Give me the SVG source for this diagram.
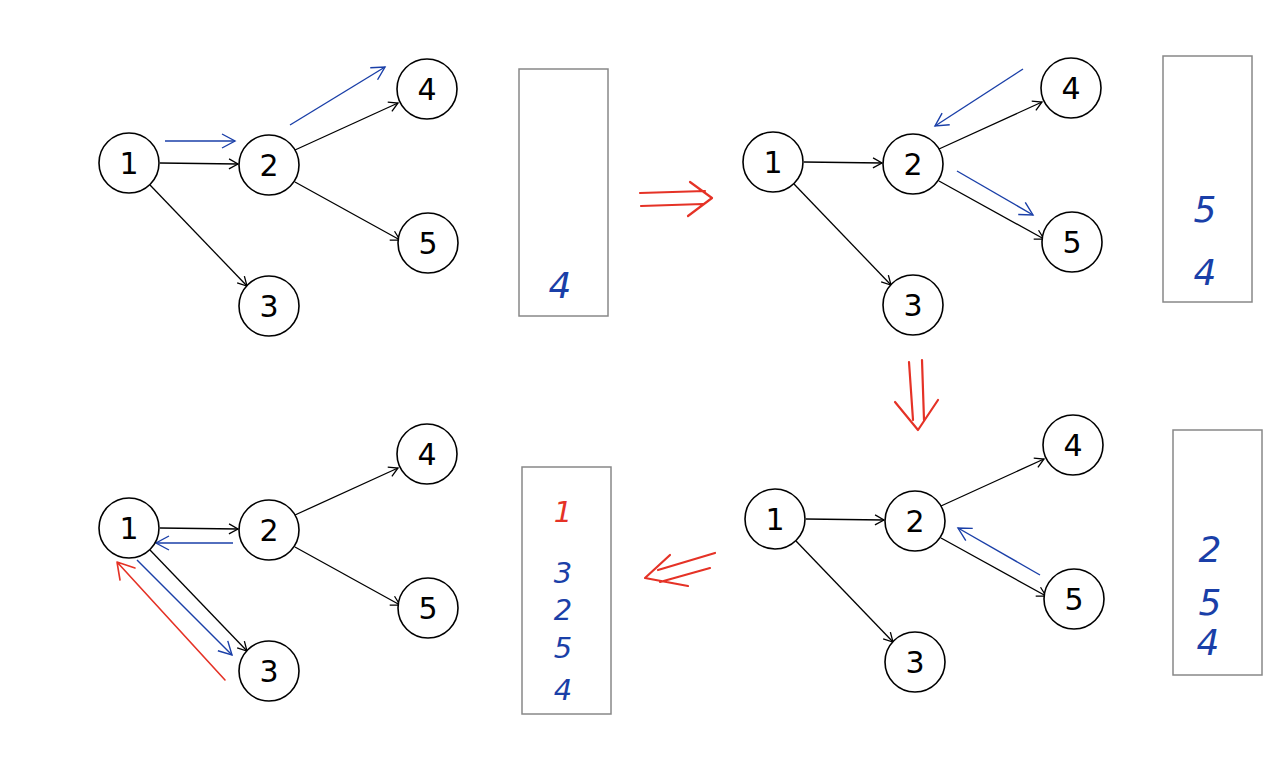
<svg xmlns="http://www.w3.org/2000/svg" width="1280" height="759" viewBox="0 0 1280 759">
<defs>
<style>
.n{fill:#fff;stroke:#000;stroke-width:1.6}
.t{font-family:"DejaVu Sans",sans-serif;font-size:30px;text-anchor:middle;fill:#000}
.e{stroke:#000;stroke-width:1.3;fill:none;marker-end:url(#ak)}
.b{stroke:#1a3fa8;stroke-width:1.4;fill:none;marker-end:url(#ab)}
.r{stroke:#e53226;stroke-width:2.2;fill:none;stroke-linecap:round;stroke-linejoin:round}
.box{fill:none;stroke:#888;stroke-width:1.5}
.s{font-family:"DejaVu Sans",sans-serif;font-size:36px;text-anchor:middle;fill:#1a3fa8;font-style:italic}
.ss{font-size:29px}
</style>
<marker id="ak" markerWidth="12" markerHeight="12" refX="10" refY="6" orient="auto" markerUnits="userSpaceOnUse"><path d="M1,1 L10,6 L1,11" fill="none" stroke="#000" stroke-width="1.3"/></marker>
<marker id="ab" markerWidth="16" markerHeight="16" refX="14" refY="8" orient="auto" markerUnits="userSpaceOnUse"><path d="M1,1 L14,8 L1,15" fill="none" stroke="#1a3fa8" stroke-width="1.4"/></marker>
</defs>
<rect width="1280" height="759" fill="#fff"/>

<g id="connectors">
<g transform="translate(0,0)">
<path class="e" d="M160,163 L238,164"/><path class="e" d="M150,185 L247,286"/><path class="e" d="M295,150 L398,103"/><path class="e" d="M295,182 L400,240"/>
<path class="b" d="M165,141 L235,141"/><path class="b" d="M290,125 L385,67"/>
</g>
<g transform="translate(644,-1)">
<path class="e" d="M160,163 L238,164"/><path class="e" d="M150,185 L247,286"/><path class="e" d="M295,150 L398,103"/><path class="e" d="M295,182 L400,240"/>
</g>
<path class="b" d="M1023,69 L935,126"/><path class="b" d="M957,171 L1033,215"/>
<g transform="translate(646,356)">
<path class="e" d="M160,163 L238,164"/><path class="e" d="M150,185 L247,286"/><path class="e" d="M295,150 L398,103"/><path class="e" d="M295,182 L400,240"/>
</g>
<path class="b" d="M1040,575 L958,528"/>
<g transform="translate(0,365)">
<path class="e" d="M160,163 L238,164"/><path class="e" d="M150,185 L247,286"/><path class="e" d="M295,150 L398,103"/><path class="e" d="M295,182 L400,240"/>
</g>
<path class="b" d="M233,543 L156,543"/><path class="b" d="M137,560 L232,655"/>
<path class="r" d="M225,680 L117,562 M117,562 L120,580 M117,562 L135,568" style="stroke-width:1.6"/>
<path class="r" d="M640,193 L705,191 M641,206 L703,204 M690,182 L712,198 L688,216"/>
<path class="r" d="M909,362 L913,420 M922,360 L924,420 M895,402 L918,430 L938,400"/>
<path class="r" d="M715,553 L658,570 M710,568 L660,582 M670,555 L645,578 L688,586"/>
</g>

<g id="p1">
<g id="a1" transform="translate(129,163)"><circle class="n" r="30"/><text class="t" y="11">1</text></g>
<g id="a2" transform="translate(269,165)"><circle class="n" r="30"/><text class="t" y="11">2</text></g>
<g id="a4" transform="translate(427,89)"><circle class="n" r="30"/><text class="t" y="11">4</text></g>
<g id="a5" transform="translate(428,243)"><circle class="n" r="30"/><text class="t" y="11">5</text></g>
<g id="a3" transform="translate(269,306)"><circle class="n" r="30"/><text class="t" y="11">3</text></g>
<g id="s1"><rect class="box" x="519" y="69" width="89" height="247"/><text class="s" x="560" y="298">4</text></g>
</g>
<g id="p2">
<g id="b1" transform="translate(773,162)"><circle class="n" r="30"/><text class="t" y="11">1</text></g>
<g id="b2" transform="translate(913,164)"><circle class="n" r="30"/><text class="t" y="11">2</text></g>
<g id="b4" transform="translate(1071,88)"><circle class="n" r="30"/><text class="t" y="11">4</text></g>
<g id="b5" transform="translate(1072,242)"><circle class="n" r="30"/><text class="t" y="11">5</text></g>
<g id="b3" transform="translate(913,305)"><circle class="n" r="30"/><text class="t" y="11">3</text></g>
<g id="s2"><rect class="box" x="1163" y="56" width="89" height="246"/><text class="s" x="1205" y="222">5</text><text class="s" x="1205" y="285">4</text></g>
</g>
<g id="p3">
<g id="c1" transform="translate(775,519)"><circle class="n" r="30"/><text class="t" y="11">1</text></g>
<g id="c2" transform="translate(915,521)"><circle class="n" r="30"/><text class="t" y="11">2</text></g>
<g id="c4" transform="translate(1073,445)"><circle class="n" r="30"/><text class="t" y="11">4</text></g>
<g id="c5" transform="translate(1074,599)"><circle class="n" r="30"/><text class="t" y="11">5</text></g>
<g id="c3" transform="translate(915,662)"><circle class="n" r="30"/><text class="t" y="11">3</text></g>
<g id="s3"><rect class="box" x="1173" y="430" width="89" height="245"/><text class="s" x="1210" y="562">2</text><text class="s" x="1210" y="615">5</text><text class="s" x="1208" y="655">4</text></g>
</g>
<g id="p4">
<g id="d1" transform="translate(129,528)"><circle class="n" r="30"/><text class="t" y="11">1</text></g>
<g id="d2" transform="translate(269,530)"><circle class="n" r="30"/><text class="t" y="11">2</text></g>
<g id="d4" transform="translate(427,454)"><circle class="n" r="30"/><text class="t" y="11">4</text></g>
<g id="d5" transform="translate(428,608)"><circle class="n" r="30"/><text class="t" y="11">5</text></g>
<g id="d3" transform="translate(269,671)"><circle class="n" r="30"/><text class="t" y="11">3</text></g>
<g id="s4"><rect class="box" x="522" y="467" width="89" height="247"/><text class="s ss" x="563" y="522" style="fill:#e53226">1</text><text class="s ss" x="563" y="583">3</text><text class="s ss" x="563" y="620">2</text><text class="s ss" x="563" y="658">5</text><text class="s ss" x="563" y="700">4</text></g>
</g>
</svg>
